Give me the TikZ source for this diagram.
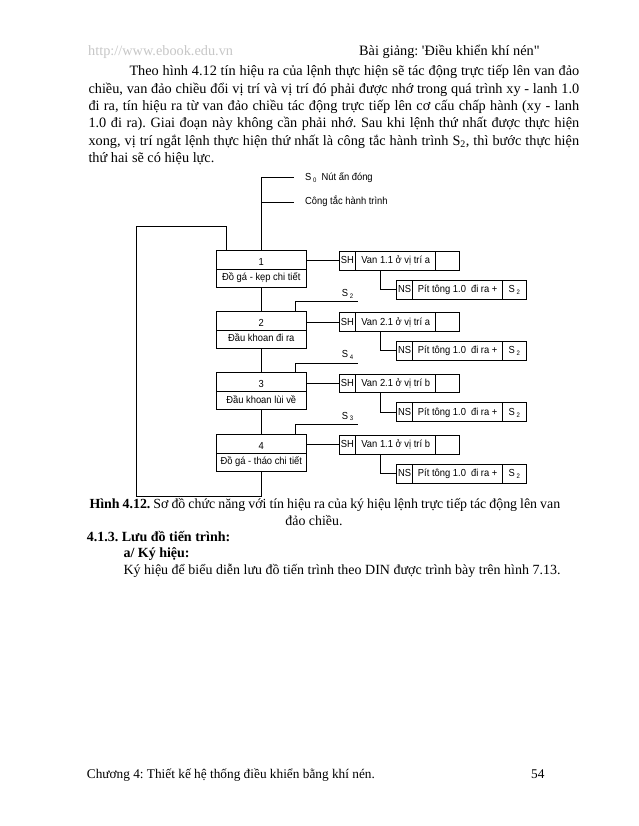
\documentclass[tikz,border=0pt]{standalone}
\usepackage{fontspec}
\setmainfont{Liberation Serif}
\newfontfamily\hdrfont[Ligatures=TeXOff]{Liberation Serif}
\newfontfamily\dsf[FakeStretch=0.92]{Liberation Sans}
\newcommand\dsub[1]{\raisebox{-1.8pt}{\fontsize{6.5}{7}\selectfont #1}}
\frenchspacing
\begin{document}
\begin{tikzpicture}[x=1pt,y=-1pt,
  ln/.style={draw=black,line width=0.8pt},
  stepbox/.style={draw=black,line width=0.8pt,minimum width=89.5pt,minimum height=37pt,inner sep=0pt,outer sep=0pt,anchor=north west},
  cell/.style={draw=black,line width=0.8pt,inner sep=0pt,outer sep=0pt,anchor=north west,text height=7.5pt,text depth=1.5pt,font=\dsf\fontsize{10.2}{12}\selectfont},
  dtxt/.style={inner sep=0pt,anchor=base,font=\dsf\fontsize{10.2}{12}\selectfont},
  ptxt/.style={inner sep=0pt,anchor=base west,font=\fontsize{14.3}{17.4}\selectfont},
]
\useasboundingbox[fill=white] (0,0) rectangle (638,826);

% header
\node[ptxt,text=black!22] (h1) at (88,55.5) {http://www.ebook.edu.vn};
\node[ptxt,font=\hdrfont\fontsize{14.3}{17.4}\selectfont] (h2) at (359,56) {Bài giảng: 'Điều khiển khí nén"};

% paragraph
\node[ptxt] (p1) at (129.3,75.7) {\makebox[449.7pt][s]{Theo hình 4.12 tín hiệu ra của lệnh thực hiện sẽ tác động trực tiếp lên van đảo}};
\node[ptxt] (p2) at (88.3,93.1) {\makebox[490.7pt][s]{chiều, van đảo chiều đổi vị trí và vị trí đó phải được nhớ trong quá trình xy - lanh 1.0}};
\node[ptxt] (p3) at (88.3,110.5) {\makebox[490.7pt][s]{đi ra, tín hiệu ra từ van đảo chiều tác động trực tiếp lên cơ cấu chấp hành (xy - lanh}};
\node[ptxt] (p4) at (88.3,127.9) {\makebox[490.7pt][s]{1.0 đi ra). Giai đoạn này không cần phải nhớ. Sau khi lệnh thứ nhất được thực hiện}};
\node[ptxt] (p5) at (88.3,145.3) {\makebox[490.7pt][s]{xong, vị trí ngắt lệnh thực hiện thứ nhất là công tắc hành trình S\textsubscript{2}, thì bước thực hiện}};
\node[ptxt] (p6) at (88.3,162.7) {thứ hai sẽ có hiệu lực.};

% diagram: step boxes and valves
\foreach \i/\T/\lab/\van in {
  1/250/{Đồ gá - kẹp chi tiết}/{Van 1.1 ở vị trí a},
  2/311.3/{Đầu khoan đi ra}/{Van 2.1 ở vị trí a},
  3/372.7/{Đầu khoan lùi về}/{Van 2.1 ở vị trí b},
  4/434/{Đồ gá - tháo chi tiết}/{Van 1.1 ở vị trí b}}{
  \node[stepbox] (b\i) at (216.5,\T) {};
  \draw[ln] ([yshift=-19pt]b\i.north west) -- ([yshift=-19pt]b\i.north east);
  \node[dtxt] (n\i) at (261.25,\T+15) {\i};
  \node[dtxt] (l\i) at (261.25,\T+30.5) {\lab};
  \node[cell,minimum width=16.7pt,minimum height=18.5pt] (sha\i) at (339,\T+1.5) {SH};
  \node[cell,minimum width=80pt,minimum height=18.5pt] (shb\i) at (sha\i.north east) {\van};
  \node[cell,minimum width=23.3pt,minimum height=18.5pt] (shc\i) at (shb\i.north east) {};
  \node[cell,minimum width=16pt,minimum height=19pt] (nsa\i) at (396.7,\T+30) {NS};
  \node[cell,minimum width=90pt,minimum height=19pt] (nsb\i) at (nsa\i.north east) {Pít tông 1.0\enspace đi ra +};
  \node[cell,minimum width=23.3pt,minimum height=19pt] (nsc\i) at (nsb\i.north east) {S\,\dsub{2}};
  \draw[ln] (b\i.east |- sha\i.west) -- (sha\i.west);
  \draw[ln] ([xshift=-15.2pt]shb\i.south) |- (nsa\i.west);
}

% links between steps
\draw[ln] (b1.south) -- (b2.north);
\draw[ln] (b2.south) -- (b3.north);
\draw[ln] (b3.south) -- (b4.north);

% transition conditions
\foreach \i/\T/\s in {2/311.3/2, 3/372.7/4, 4/434/3}{
  \coordinate (se\i) at (358,\T-9.5);
  \draw[ln] ([xshift=33.75pt]b\i.north) |- (se\i);
  \node[dtxt,anchor=base west] (sl\i) at (341.7,\T-15) {S\,\dsub{\s}};
}

% start conditions
\coordinate (c0) at (294,177.7);
\coordinate (c1) at (294,202.3);
\draw[ln] (b1.north) |- (c0);
\draw[ln] (b1.north |- c1) -- (c1);
\node[dtxt,anchor=base west] (t0) at (305,181) {S\,\dsub{0}\enspace Nút ấn đóng};
\node[dtxt,anchor=base west] (t1) at (305,205) {Công tắc hành trình};

% return loop
\coordinate (lp1) at (136.7,226);
\coordinate (lp2) at (136.7,496);
\draw[ln] ([xshift=-34.5pt]b1.north) |- (lp1) -- (lp2) -| (b4.south);

% caption and following text
\node[ptxt,font=\fontsize{13.9}{17}\selectfont] (cap1) at (89.3,508.5) {\makebox[470.7pt][s]{\textbf{Hình 4.12.} Sơ đồ chức năng với tín hiệu ra của ký hiệu lệnh trực tiếp tác động lên van}};
\node[inner sep=0pt,anchor=base,font=\fontsize{13.9}{17}\selectfont] (cap2) at (314,525) {đảo chiều.};
\node[ptxt,font=\fontsize{14}{17}\selectfont\bfseries] (sec) at (86.7,541.7) {4.1.3. Lưu đồ tiến trình:};
\node[ptxt,font=\fontsize{14}{17}\selectfont\bfseries] (sub) at (123.3,557.5) {a/ Ký hiệu:};
\node[ptxt,font=\fontsize{14}{17}\selectfont] (body) at (123.3,574) {Ký hiệu để biểu diễn lưu đồ tiến trình theo DIN được trình bày trên hình 7.13.};

% footer
\node[ptxt,font=\fontsize{13.3}{16}\selectfont] (f1) at (86.7,778) {Chương 4: Thiết kế hệ thống điều khiển bằng khí nén.};
\node[ptxt,font=\fontsize{13.3}{16}\selectfont] (f2) at (531,778) {54};
\end{tikzpicture}
\end{document}
